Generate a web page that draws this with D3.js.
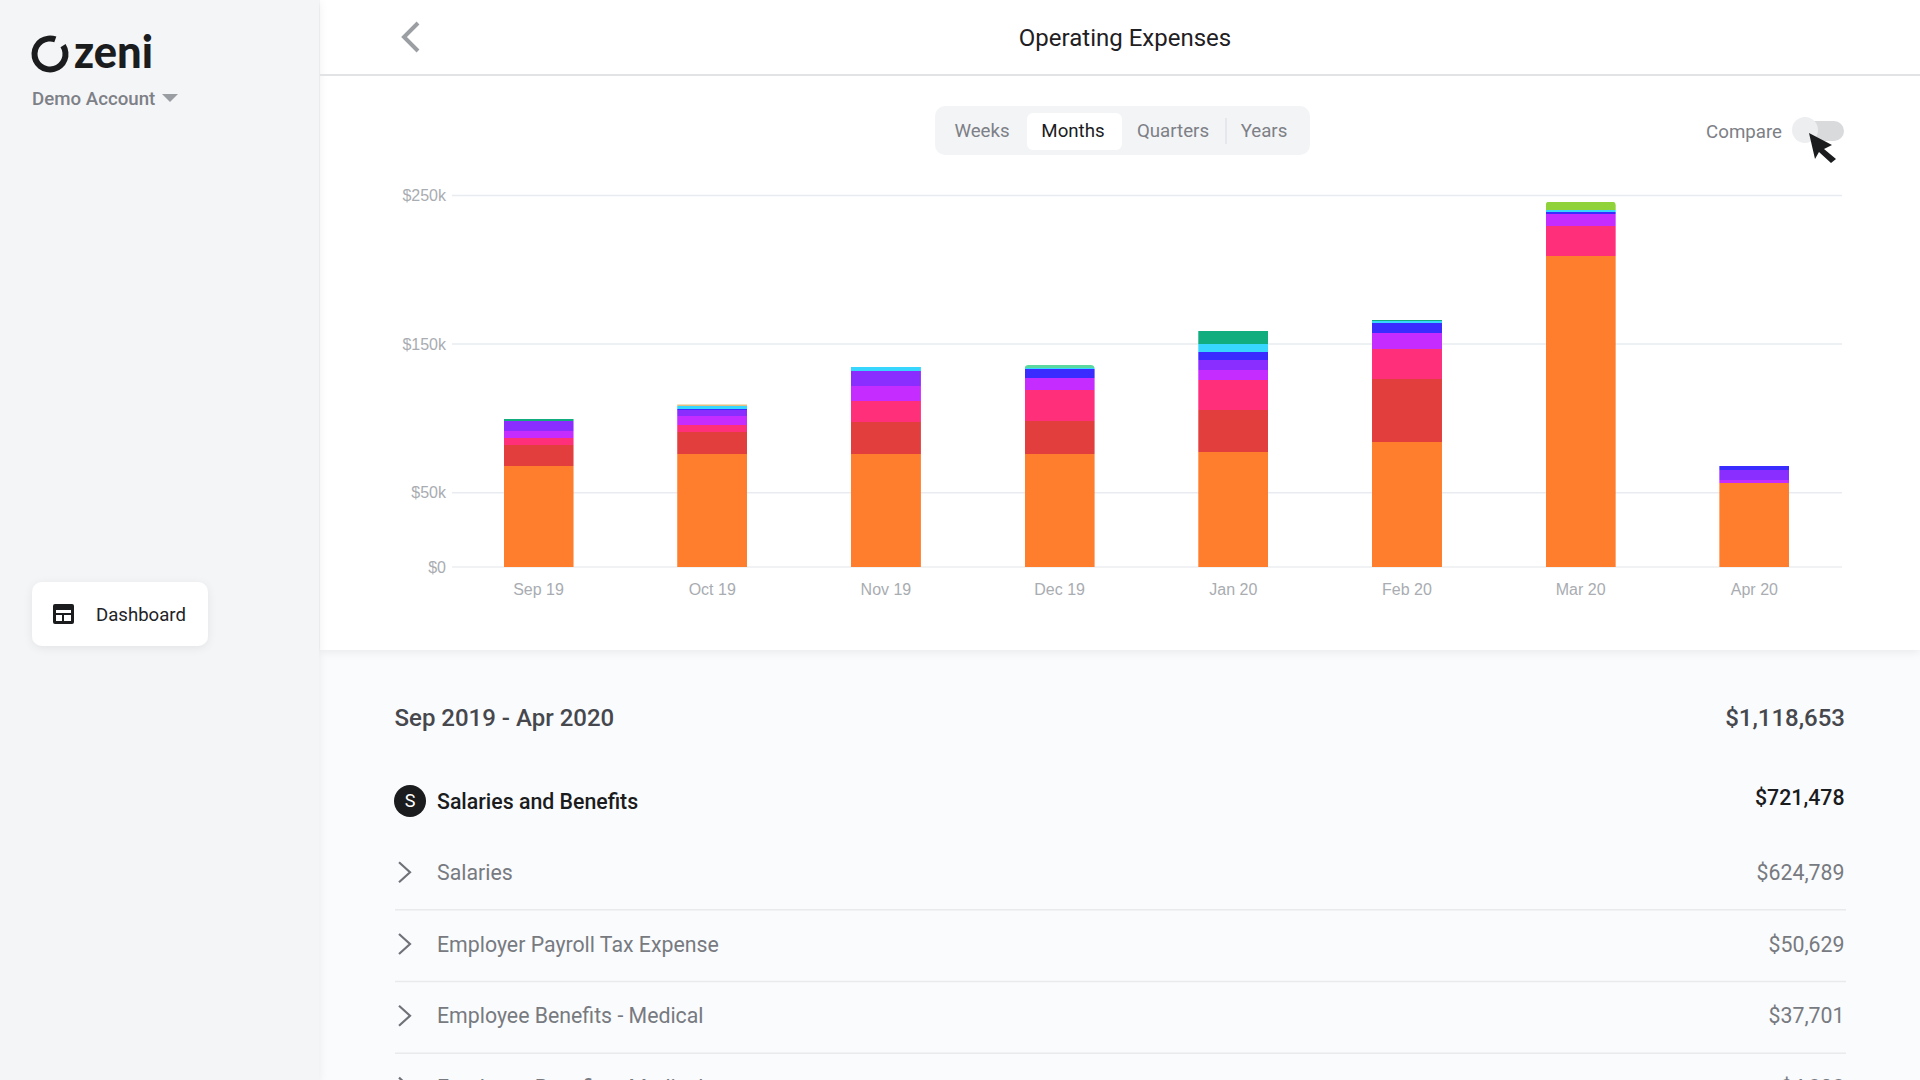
<!DOCTYPE html>
<html><head><meta charset="utf-8"><title>Operating Expenses</title>
<script src="https://cdn.jsdelivr.net/npm/d3@7"></script>
<style>html,body{margin:0;padding:0;background:#fafbfd;overflow:hidden}svg{display:block}text{font-family:Roboto,sans-serif}
.axis text{font-family:"Liberation Sans",Arial,sans-serif;font-size:16px;fill:#a9acb1}
.axis path,.axis line{display:none}</style></head><body><div id="root"></div>
<script>
const months = ["Sep 19","Oct 19","Nov 19","Dec 19","Jan 20","Feb 20","Mar 20","Apr 20"];
const yTicks = [0,50,150,250];
const orange = [68.0,75.8,75.8,75.8,77.2,84.3,209.3,56.5];
const red = [14.1,14.8,21.5,22.4,28.7,42.2,0,0];
const pink = [4.5,4.7,14.4,20.9,20.2,20.4,20.4,0];
const magenta = [4.9,6.3,10.3,8.3,6.5,10.3,8.1,2.2];
const violet = [6.5,4.3,10.1,0,6.7,0,0,6.5];
const blue = [0,0.4,0,5.6,5.6,7.2,1.1,2.7];
const cyan = [0,2.2,2.8,0.9,5.4,1.4,1.6,0.4];
const teal = [1.6,0,0,0,8.5,0.6,0,0];
const mint = [0,0,0,2.0,0,0,0,0];
const lime = [0,0,0,0,0,0,5.4,0];
const tan = [0,0.9,0,0,0,0,0,0];
const seriesNames = ["orange","red","pink","magenta","violet","blue","cyan","teal","mint","lime","tan"];
const seriesValues = [orange,red,pink,magenta,violet,blue,cyan,teal,mint,lime,tan];
const seriesColors = ["#ff7e2e","#e33e3e","#ff2f7a","#c42cff","#8a2eff","#3a2cff","#36d6ff","#12ad7e","#5ad8a0","#8fd23a","#e0c080"];
const roundedMonths = ["Dec 19","Mar 20"];
const tabs = ["Weeks","Months","Quarters","Years"];
const rowLabels = ["Salaries","Employer Payroll Tax Expense","Employee Benefits - Medical","Employee Benefits - Medical"];
const rowAmounts = ["$624,789","$50,629","$37,701","$4,808"];

const svg = d3.select("#root").append("svg").attr("width",1920).attr("height",1080).attr("viewBox","0 0 1920 1080");
const defs = svg.append("defs");
const sh = defs.append("filter").attr("id","sh").attr("x","-20%").attr("y","-20%").attr("width","140%").attr("height","150%");
sh.append("feDropShadow").attr("dx",0).attr("dy",2).attr("stdDeviation",4).attr("flood-color","#000").attr("flood-opacity",0.07);

// page regions
svg.append("rect").attr("width",1920).attr("height",1080).attr("fill","#fafbfd");
svg.append("rect").attr("x",320).attr("y",0).attr("width",1600).attr("height",650).attr("fill","#ffffff").attr("filter","url(#sh)");
svg.append("rect").attr("width",319).attr("height",1080).attr("fill","#f4f5f7").attr("filter","url(#sh)");
svg.append("line").attr("x1",320).attr("x2",1920).attr("y1",75).attr("y2",75).attr("stroke","#e2e3e5").attr("stroke-width",2);

// sidebar
const ringArc = d3.arc().innerRadius(12.5).outerRadius(18.5).startAngle(1.0).endAngle(2*Math.PI+0.35);
svg.append("path").attr("d",ringArc()).attr("transform","translate(50,54)").attr("fill","#1b1c1e");
svg.append("text").attr("x",74).attr("y",68).attr("font-size",46).attr("font-weight",900).attr("fill","#1b1c1e")
  .style("font-family","Lato,sans-serif").attr("textLength",79).attr("lengthAdjust","spacingAndGlyphs").text("zeni");
svg.append("text").attr("x",32).attr("y",105).attr("font-size",18.7).attr("font-weight",500).attr("fill","#7d8086").text("Demo Account");
svg.append("path").attr("d",d3.line()([[162,94],[178,94],[170,102]])+"Z").attr("fill","#9a9da2");
svg.append("rect").attr("x",32).attr("y",582).attr("width",176).attr("height",64).attr("rx",10).attr("fill","#fff").attr("filter","url(#sh)");
svg.append("rect").attr("x",53).attr("y",604).attr("width",21).attr("height",20).attr("rx",2).attr("fill","#1b1c1e");
svg.append("rect").attr("x",56).attr("y",610).attr("width",15).attr("height",3).attr("fill","#fff");
svg.append("rect").attr("x",56).attr("y",615).attr("width",6).attr("height",6).attr("fill","#fff");
svg.append("rect").attr("x",64).attr("y",615).attr("width",7).attr("height",6).attr("fill","#fff");
svg.append("text").attr("x",96).attr("y",621).attr("font-size",18.6).attr("fill","#222326").text("Dashboard");

// header
svg.append("path").attr("d",d3.line()([[418,23],[404,37],[418,51]])).attr("fill","none").attr("stroke","#9b9ea3").attr("stroke-width",4);
svg.append("text").attr("x",1125).attr("y",46).attr("text-anchor","middle").attr("font-size",24).attr("fill","#1f2023").text("Operating Expenses");

// tabs
svg.append("rect").attr("x",935).attr("y",106).attr("width",375).attr("height",49).attr("rx",10).attr("fill","#f3f4f6");
svg.append("rect").attr("x",1027).attr("y",113).attr("width",95).attr("height",37).attr("rx",6).attr("fill","#fff");
svg.append("line").attr("x1",1226).attr("x2",1226).attr("y1",118).attr("y2",144).attr("stroke","#d9dadd");
const tabX = [982,1073,1173,1264];
svg.selectAll("text.tab").data(tabs).join("text").attr("class","tab").attr("x",(d,i)=>tabX[i]).attr("y",137)
  .attr("text-anchor","middle").attr("font-size",18.7).attr("fill",d=>d==="Months"?"#1b1c1e":"#7d8086").text(d=>d);
svg.append("text").attr("x",1782).attr("y",138).attr("text-anchor","end").attr("font-size",18.7).attr("fill","#7d8086").text("Compare");
svg.append("rect").attr("x",1795).attr("y",121).attr("width",49).attr("height",20).attr("rx",10).attr("fill","#d8dadc");
svg.append("circle").attr("cx",1805).attr("cy",130).attr("r",13).attr("fill","#eceef0");
svg.append("path").attr("d",d3.line()([[1809,133],[1832,145],[1824,149],[1836,159],[1831,163],[1819,152],[1815,159]])+"Z").attr("fill","#1b1c1e");

// chart
const x = d3.scaleBand().domain(months).range([451.7,1841.2]).paddingInner(0.597).paddingOuter(0.2985);
const y = d3.scaleLinear().domain([0,250]).range([567,195.5]);
const kFmt = d => d===0 ? "$0" : `$${d}k`;
const g = svg.append("g");
g.append("g").selectAll("line").data(yTicks).join("line")
  .attr("x1",452).attr("x2",1842).attr("y1",d=>y(d)).attr("y2",d=>y(d)).attr("stroke",d=>d===0?"#eceef1":"#e8ecf1").attr("stroke-width",1.5);
g.append("g").attr("class","axis").attr("transform","translate(452,0)")
  .call(d3.axisLeft(y).tickValues(yTicks).tickFormat(kFmt).tickSize(0).tickPadding(6));
g.append("g").attr("class","axis").attr("transform","translate(0,569)")
  .call(d3.axisBottom(x).tickSize(0).tickPadding(15));

const table = months.map((m,i)=>{const o={month:m};seriesNames.forEach((s,k)=>o[s]=seriesValues[k][i]);return o;});
const stacked = d3.stack().keys(seriesNames)(table);
months.forEach((m,i)=>{
  const top = d3.sum(seriesValues,v=>v[i]);
  const rounded = roundedMonths.includes(m);
  defs.append("clipPath").attr("id","bar"+i).append("rect").attr("x",x(m)).attr("y",y(top))
    .attr("width",x.bandwidth()).attr("height",y(0)-y(top)+10).attr("rx",rounded?4:0);
});
g.append("g").selectAll("g").data(stacked).join("g").attr("fill",(d,i)=>seriesColors[i])
  .selectAll("rect").data(d=>d.filter(p=>p[1]>p[0])).join("rect")
  .attr("shape-rendering","crispEdges")
  .attr("x",d=>x(d.data.month)).attr("width",x.bandwidth())
  .attr("y",d=>y(d[1])).attr("height",d=>y(d[0])-y(d[1]))
  .attr("clip-path",d=>`url(#bar${months.indexOf(d.data.month)})`);

// summary list
svg.append("text").attr("x",394.5).attr("y",726).attr("font-size",24).attr("font-weight",500).attr("fill","#46484d").text("Sep 2019 - Apr 2020");
svg.append("text").attr("x",1845).attr("y",726).attr("text-anchor","end").attr("font-size",24).attr("font-weight",500).attr("fill","#46484d").text("$1,118,653");
svg.append("circle").attr("cx",410).attr("cy",801).attr("r",16).attr("fill","#1b1c1e");
svg.append("text").attr("x",410).attr("y",807).attr("text-anchor","middle").attr("font-size",18).attr("fill","#fff").text("S");
svg.append("text").attr("x",437).attr("y",808.5).attr("font-size",21.3).attr("font-weight",500).attr("fill","#1b1c1e").text("Salaries and Benefits");
svg.append("text").attr("x",1844.5).attr("y",804.5).attr("text-anchor","end").attr("font-size",21.3).attr("font-weight",500).attr("fill","#1b1c1e").text("$721,478");

const rowY = d3.scalePoint().domain(d3.range(4)).range([872.2,1087.6]);
const rows = svg.append("g").selectAll("g").data(rowLabels).join("g").attr("transform",(d,i)=>`translate(0,${rowY(i)})`);
rows.append("path").attr("d",d3.line()([[399,-10],[410,0],[399,10]])).attr("fill","none").attr("stroke","#6f7278").attr("stroke-width",2.2);
rows.append("text").attr("x",437).attr("y",7.5).attr("font-size",21.3).attr("fill","#777a80").text(d=>d);
rows.append("text").attr("x",1844.5).attr("y",7.5).attr("text-anchor","end").attr("font-size",21.3).attr("fill","#777a80").text((d,i)=>rowAmounts[i]);
rows.filter((d,i)=>i<3).append("line").attr("x1",395).attr("x2",1846).attr("y1",37.5).attr("y2",37.5).attr("stroke","#e9eaec").attr("stroke-width",1.5);
</script></body></html>
